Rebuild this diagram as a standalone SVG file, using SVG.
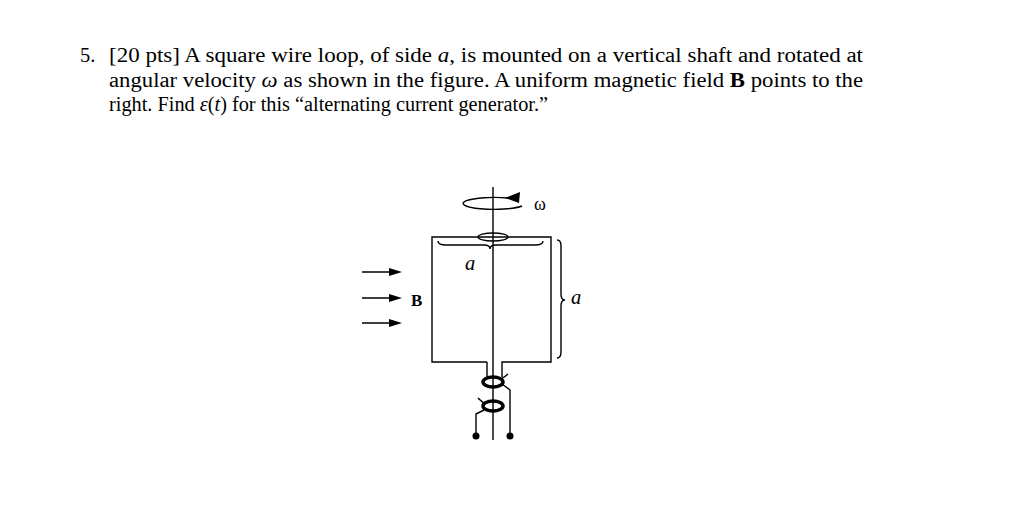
<svg xmlns="http://www.w3.org/2000/svg" width="1024" height="528" viewBox="0 0 1024 528">
<style>
.t{font-family:"Liberation Serif",serif;font-size:20.5px;fill:#000}
.l{fill:none;stroke:#000;stroke-width:1.4}
.i{font-style:italic}
.ah{fill:#000}
</style>
<rect width="1024" height="528" fill="#fff"/>
<g id="text">
<text class="t" x="80" y="62">5.</text>
<text class="t" x="109" y="62" textLength="754" lengthAdjust="spacingAndGlyphs">[20 pts] A square wire loop, of side <tspan class="i">a</tspan>, is mounted on a vertical shaft and rotated at</text>
<text class="t" x="109" y="87" textLength="754" lengthAdjust="spacingAndGlyphs">angular velocity <tspan class="i">ω</tspan> as shown in the figure. A uniform magnetic field <tspan font-weight="bold">B</tspan> points to the</text>
<text class="t" x="109" y="111" textLength="439" lengthAdjust="spacingAndGlyphs">right. Find <tspan class="i">ε</tspan>(<tspan class="i">t</tspan>) for this “alternating current generator.”</text>
</g>
<g id="loop">
<path class="l" d="M487,362 H432 V237 H551 V362 H502 V377 M487,362 V377"/>
<ellipse class="l" cx="493" cy="237" rx="15" ry="4"/>
</g>
<g id="shaft"><line class="l" x1="493" y1="187" x2="493" y2="440"/></g>
<g id="omega">
<path class="l" d="M508,198 A31,6 0 1 0 522,206"/>
<path d="M505,198 L520,192 L519,203 z" fill="#000"/>
<text x="534" y="210" style="font-family:'Liberation Serif',serif;font-size:18px">ω</text>
</g>
<g id="braces">
<path class="l" d="M438,241 Q438,245 446,245 H484 Q490,245 490,249 Q490,245 496,245 H535 Q543,245 543,241"/>
<text class="t i" x="465" y="270" font-size="15">a</text>
<path class="l" d="M557,240 Q561,240 561,246 V294 Q561,300 565,300 Q561,300 561,306 V352 Q561,358 557,358"/>
<text class="t i" x="571" y="304" font-size="15">a</text>
</g>
<g id="field">
<path class="l" d="M362,272 H392 M362,298 H392 M362,323 H392"/>
<path class="ah" d="M389,268 L402,272 L389,276 z M389,294 L402,298 L389,302 z M389,319 L402,323 L389,327 z"/>
<text x="411" y="306" style="font-family:'Liberation Serif',serif;font-size:17px;font-weight:bold">B</text>
</g>
<g id="rings">
<ellipse cx="493" cy="382" rx="10" ry="5" fill="none" stroke="#000" stroke-width="3.5"/>
<ellipse cx="493" cy="406" rx="10" ry="5" fill="none" stroke="#000" stroke-width="3.5"/>
<path class="l" d="M501,379 Q506,376 508,374 M502,384 L510,390 V436"/>
<path class="l" d="M485,404 Q480,400 478,398 M484,410 L476,414 V436"/>
<circle cx="476" cy="436" r="3.5"/>
<circle cx="510" cy="436" r="3.5"/>
</g>
</svg>
